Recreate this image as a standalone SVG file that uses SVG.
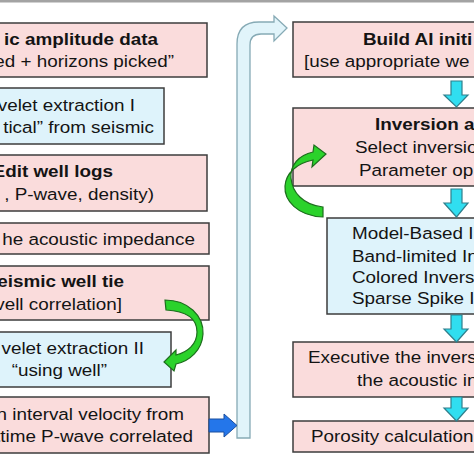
<svg xmlns="http://www.w3.org/2000/svg" width="474" height="474" viewBox="0 0 474 474">
<style>
.pink{fill:#fadcdc;stroke:#3c3c3c;stroke-width:1.5}
.blue{fill:#def3fb;stroke:#3c3c3c;stroke-width:1.5}
text{font-family:"Liberation Sans",Arial,sans-serif;font-size:17px;fill:#141414}
.b{font-weight:bold}
.e{text-anchor:end}
.cy{fill:#30def0;stroke:#2f7f8c;stroke-width:1.2}
.gr{fill:#2bd22b;stroke:#1d6e1d;stroke-width:1.2}
</style>
<rect x="0" y="0" width="474" height="474" fill="#ffffff"/>
<rect x="0" y="0" width="474" height="2.5" fill="#a3a3a3"/>

<g id="n1"><rect class="pink" x="-5" y="23" width="212" height="54"/>
<g transform="scale(1.11 1)"><text class="b e" x="142.3" y="45">ic amplitude data</text><text class="e" x="156.8" y="67">ed + horizons picked”</text></g></g>
<g id="n2"><rect class="blue" x="-5" y="88" width="169" height="56"/>
<g transform="scale(1.11 1)"><text class="e" x="121.6" y="111">velet extraction I</text><text class="e" x="138.7" y="133">tical” from seismic</text></g></g>
<g id="n3"><rect class="pink" x="-5" y="155" width="212" height="56"/>
<g transform="scale(1.11 1)"><text class="b e" x="101.8" y="177">Edit well logs</text><text class="e" x="138.7" y="200">, P-wave, density)</text></g></g>
<g id="n4"><rect class="pink" x="-5" y="223" width="214" height="31"/>
<g transform="scale(1.11 1)"><text class="e" x="175.7" y="245">he acoustic impedance</text></g></g>
<g id="n5"><rect class="pink" x="-5" y="266" width="214" height="54"/>
<g transform="scale(1.11 1)"><text class="b e" x="111.7" y="287">eismic well tie</text><text class="e" x="109.9" y="310">vell correlation]</text></g></g>
<g id="n6"><rect class="blue" x="-5" y="332" width="176" height="55"/>
<g transform="scale(1.11 1)"><text class="e" x="129.7" y="354">velet extraction II</text><text class="e" x="96.4" y="376">“using well”</text></g></g>
<g id="n7"><rect class="pink" x="-5" y="397" width="214" height="56"/>
<g transform="scale(1.11 1)"><text class="e" x="165.8" y="420">n interval velocity from</text><text class="e" x="173.9" y="442"><tspan class="b">t</tspan>time P-wave correlated</text></g></g>

<g id="r1"><rect class="pink" x="293" y="22" width="190" height="55"/>
<g transform="scale(1.11 1)"><text class="b" x="327" y="45">Build AI initi</text><text x="273.9" y="67">[use appropriate we</text></g></g>
<g id="r2"><rect class="pink" x="293" y="108" width="190" height="78"/>
<g transform="scale(1.11 1)"><text class="b" x="337.8" y="130">Inversion a</text><text x="319.8" y="153">Select inversio</text><text x="323.4" y="176">Parameter op</text></g></g>
<g id="r3"><rect class="blue" x="327" y="218" width="156" height="96"/>
<g transform="scale(1.11 1)"><text x="317.1" y="239">Model-Based In</text><text x="317.1" y="262">Band-limited In</text><text x="317.1" y="283">Colored Inversi</text><text x="317.1" y="304">Sparse Spike In</text></g></g>
<g id="r4"><rect class="pink" x="293" y="342" width="190" height="55"/>
<g transform="scale(1.11 1)"><text x="277.5" y="363">Executive the invers</text><text x="321.6" y="386">the acoustic in</text></g></g>
<g id="r5"><rect class="pink" x="293" y="421" width="190" height="31"/>
<g transform="scale(1.11 1)"><text x="280.2" y="442">Porosity calculation</text></g></g>

<g id="connectors">
  <path d="M237,438 L237,44 Q237,22 259,22 L274,22 L274,16 L287,28 L274,41 L274,34 L261,34 Q250,34 250,45 L250,438 Z" fill="#e1f4fa" stroke="#86aab5" stroke-width="1.3"/>
  <path d="M209,419 L224,419 L224,414 L237,425.5 L224,437 L224,432 L209,432 Z" fill="#2476ea" stroke="#1b4f9e" stroke-width="1"/>
  <path class="cy" d="M451,81 L462,81 L462,95 L468,95 L456.5,107 L444,95 L451,95 Z"/>
  <path class="cy" d="M451,189 L462,189 L462,203 L468,203 L456.5,217 L444,203 L451,203 Z"/>
  <path class="cy" d="M451,315 L462,315 L462,329 L468,329 L456.5,342 L444,329 L451,329 Z"/>
  <path class="cy" d="M451,397 L462,397 L462,408 L468,408 L456.5,421 L444,408 L451,408 Z"/>
  <path class="gr" d="M323,217 C297,216 284,200 285,186 C286,173 297,163 313,160 L312,167 L326,154 L314,145 L313,152 C299,155 290,165 291,178 C292,192 303,205 323,207 Z"/>
  <path class="gr" d="M165,300 C188,300 204,316 203,334 C202,350 190,361 176,364 L174,371 L164,362 L176,350 L176,355 C188,352 197,344 197,332 C197,318 185,311 166,310 Z"/>
</g>
</svg>
